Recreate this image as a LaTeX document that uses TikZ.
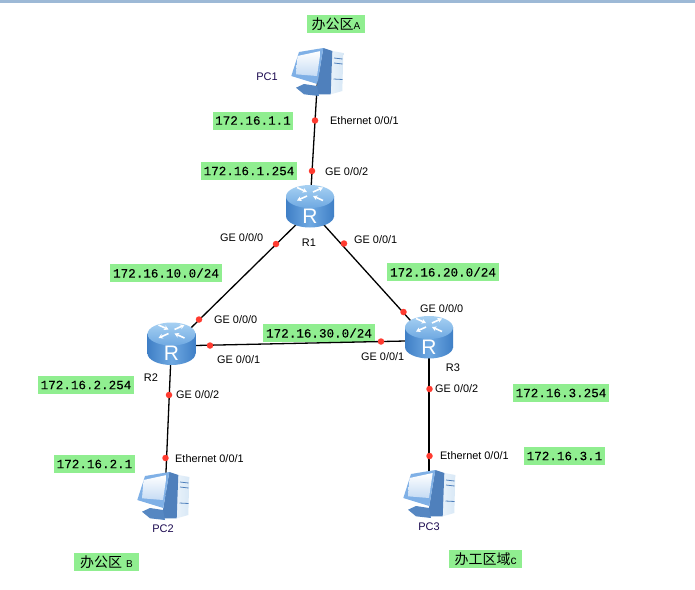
\documentclass[tikz,border=0pt]{standalone}
\usepackage{xcolor}
\usepackage{fontspec}
\usepackage{tikz}
\usetikzlibrary{arrows.meta,backgrounds}
\setmainfont{Liberation Sans}
\setmonofont[FakeBold=0.1]{Liberation Mono}
\newfontfamily\cjk{Noto Sans CJK SC}
\definecolor{ipgreen}{HTML}{90EE90}
\definecolor{portred}{HTML}{FF3B30}
\definecolor{rtlight}{HTML}{A6D0F2}
\definecolor{rtmid}{HTML}{6FA9E2}
\definecolor{rtdark}{HTML}{3F7FC6}
\definecolor{pcframe}{HTML}{7FB0E6}
\definecolor{pcside}{HTML}{4F80BC}
\definecolor{pcfront}{HTML}{D8E8F6}
\definecolor{pcname}{HTML}{1C0A50}
\definecolor{topbar}{HTML}{9DB9D6}
\tikzset{
	link/.style={draw=black, line width=1.3pt},
	dot/.style={circle, fill=portred, inner sep=0pt, minimum size=6.5pt},
	port/.style={anchor=west, inner sep=0pt, font=\fontsize{10.9}{13}\selectfont},
	devname/.style={inner sep=0pt, font=\fontsize{11}{13}\selectfont},
	ip/.style={fill=ipgreen, inner sep=0pt, minimum height=18pt, font=\fontsize{12.6}{14}\ttfamily},
	area/.style={fill=ipgreen, inner sep=0pt, minimum height=18pt, font=\fontsize{14}{16}\selectfont},
	flow/.style={white, line width=1.6pt, -{Stealth[length=4.5pt,width=5pt]}},
	router/.style={inner sep=0pt, minimum width=50pt, minimum height=46pt, path picture={
		\begin{scope}[shift={(path picture bounding box.center)}]
			\shade[left color=rtdark, right color=rtdark, middle color=rtmid] (-24,-10) rectangle (24,10);
			\shade[left color=rtdark, right color=rtdark, middle color=rtmid] (0,10) ellipse [x radius=24, y radius=11.5];
			\shade[top color=rtlight, bottom color=rtmid] (0,-9.5) ellipse [x radius=24, y radius=11.5];
			\draw[flow] (3,-14) -- (13,-18.5);
			\draw[flow] (-3,-10) -- (-13,-5.5);
			\draw[flow] (-13,-18.5) -- (-3,-14);
			\draw[flow] (13,-5.5) -- (3,-10);
			\node[white, font=\fontsize{21}{21}\selectfont] (glyph) at (0,10) {R};
		\end{scope}
	}},
	computer/.style={inner sep=0pt, minimum width=60pt, minimum height=56pt, path picture={
		\begin{scope}[shift={(path picture bounding box.center)}]
			\shade[left color=pcfront!60!white, right color=pcfront] (16.3,-20) -- (27.3,-18) -- (26.3,20) -- (14.7,23.3) -- cycle;
			\fill[pcside] (7.3,-23) -- (16.3,-20) -- (14.7,23.3) -- (-0.3,23.3) -- (1.3,13) -- cycle;
			\fill[pcside!85!pcframe] (-20,16.7) -- (-12,13) -- (1,15) -- (3,25) -- (-12,23.3) -- cycle;
			\fill[pcframe] (-17,-19) -- (7.3,-23) -- (1.3,13) -- (-24.7,5) -- cycle;
			\shade[top color=white, bottom color=pcframe!45] (-18.5,-15) -- (4.7,-20) -- (1,5) -- (-20,3.3) -- cycle;
			\draw[pcside, line width=0.8pt] (18,-13) -- (26.5,-12) (18,-8) -- (26.5,-7) (17.5,8) -- (26.5,8.5);
		\end{scope}
	}},
}
\begin{document}
\begin{tikzpicture}[x=1pt, y=-1pt]
	\useasboundingbox (0,0) rectangle (695,589);

	\node[computer] (PC1) at (316,71) {};
	\node[computer] (PC2) at (162,495) {};
	\node[computer] (PC3) at (428,493) {};
	\node[router] (R1) at (310,206) {};
	\node[router] (R2) at (171.5,343.5) {};
	\node[router] (R3) at (429,337) {};

	\begin{pgfonlayer}{background}
		\fill[white] (0,0) rectangle (695,589);
		\fill[topbar] (0,0) rectangle (695,2.5);

		\node[ip, minimum width=80pt] (ipA) at (253,120.5) {172.16.1.1};
		\node[ip, minimum width=96pt] (ipB) at (249,171) {172.16.1.254};
		\node[ip, minimum width=112pt] (ipC) at (166,273) {172.16.10.0/24};
		\node[ip, minimum width=112pt] (ipD) at (443,272) {172.16.20.0/24};
		\node[ip, minimum width=112pt] (ipE) at (319,333) {172.16.30.0/24};
		\node[ip, minimum width=96pt] (ipF) at (86,385) {172.16.2.254};
		\node[ip, minimum width=81pt] (ipG) at (94.5,464) {172.16.2.1};
		\node[ip, minimum width=96pt] (ipH) at (561,393) {172.16.3.254};
		\node[ip, minimum width=81pt] (ipI) at (564.5,456) {172.16.3.1};

		\draw[link] ([xshift=2pt]PC1.center) -- (R1.center);
		\draw[link] ([yshift=-5pt]R1.center) -- ([yshift=-3.5pt]R2.center);
		\draw[link] ([yshift=-3.5pt]R1.center) -- ([yshift=-4pt]R3.center);
		\draw[link] ([yshift=-2.5pt]R2.center) -- ([yshift=-3.5pt]R3.center);
		\draw[link] (R2.center) -- ([xshift=3pt]PC2.center);
		\draw[link] (R3.center) -- ([xshift=1pt]PC3.center);
	\end{pgfonlayer}

	\foreach \n/\x/\y in {a/315/120.5, b/312/171, c/276/244, d/199/319.5, e/344/243.5, f/403.5/312, g/210/345.5, h/381/341.5, i/169/395, j/165.5/458, k/429.5/389, l/429.5/456}
		\node[dot] (dot\n) at (\x,\y) {};

	\node[devname, text=pcname] (namePC1) at (267,77) {PC1};
	\node[devname, text=pcname] (namePC2) at (163,529) {PC2};
	\node[devname, text=pcname] (namePC3) at (429,527) {PC3};
	\node[devname] (nameR1) at (309,243) {R1};
	\node[devname] (nameR2) at (151,378) {R2};
	\node[devname] (nameR3) at (453,368) {R3};

	\node[port] (portA) at (330,121) {Ethernet 0/0/1};
	\node[port] (portB) at (325,172) {GE 0/0/2};
	\node[port] (portC) at (220,238) {GE 0/0/0};
	\node[port] (portD) at (354,240) {GE 0/0/1};
	\node[port] (portE) at (214,320) {GE 0/0/0};
	\node[port] (portF) at (217,360) {GE 0/0/1};
	\node[port] (portG) at (176,395) {GE 0/0/2};
	\node[port] (portH) at (175,459) {Ethernet 0/0/1};
	\node[port] (portI) at (420,309) {GE 0/0/0};
	\node[port] (portJ) at (361,357) {GE 0/0/1};
	\node[port] (portK) at (435,389) {GE 0/0/2};
	\node[port] (portL) at (440,456) {Ethernet 0/0/1};

	\node[area, minimum width=58pt] (areaA) at (336,24) {{\cjk 办公区}{\fontsize{10}{12}\selectfont A}};
	\node[area, minimum width=65pt] (areaB) at (106.5,562) {{\cjk 办公区}\ {\fontsize{10}{12}\selectfont B}};
	\node[area, minimum width=73pt] (areaC) at (485.5,559) {{\cjk 办工区域}{\fontsize{12}{14}\selectfont c}};
\end{tikzpicture}
\end{document}
